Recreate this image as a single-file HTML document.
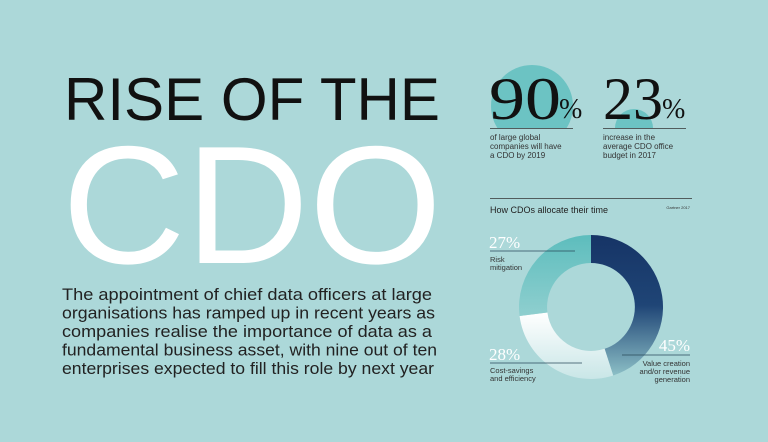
<!DOCTYPE html>
<html><head><meta charset="utf-8"><style>
html,body{margin:0;padding:0;background:#acd8d9;}
svg{display:block}
</style></head><body>
<svg width="768" height="442" viewBox="0 0 768 442" xmlns="http://www.w3.org/2000/svg">
<defs>
<linearGradient id="navy" x1="0" y1="0" x2="0" y2="1">
<stop offset="0" stop-color="#163466"/><stop offset="0.5" stop-color="#1f4576"/><stop offset="1" stop-color="#8cbfc6"/>
</linearGradient>
<linearGradient id="wht" x1="0" y1="0" x2="0" y2="1">
<stop offset="0" stop-color="#ffffff"/><stop offset="1" stop-color="#c9e6e7"/>
</linearGradient>
<linearGradient id="teal" x1="0" y1="0" x2="0" y2="1">
<stop offset="0" stop-color="#5dbdbd"/><stop offset="1" stop-color="#8fcfcf"/>
</linearGradient>
<clipPath id="c1"><rect x="480" y="40" width="110" height="88"/></clipPath>
<clipPath id="c2"><rect x="595" y="40" width="110" height="88"/></clipPath>
</defs>
<rect width="768" height="442" fill="#acd8d9"/>
<text x="64" y="120" font-family="Liberation Sans, sans-serif" font-size="60" fill="#111" textLength="376" lengthAdjust="spacingAndGlyphs">RISE OF THE</text>
<text x="62" y="263" font-family="Liberation Sans, sans-serif" font-size="168" fill="#fff" textLength="380" lengthAdjust="spacingAndGlyphs">CDO</text>
<g font-family="Liberation Sans, sans-serif" font-size="17" fill="#222">
<text x="62" y="300" textLength="370" lengthAdjust="spacingAndGlyphs">The appointment of chief data officers at large</text>
<text x="62" y="318.5" textLength="373" lengthAdjust="spacingAndGlyphs">organisations has ramped up in recent years as</text>
<text x="62" y="337" textLength="370" lengthAdjust="spacingAndGlyphs">companies realise the importance of data as a</text>
<text x="62" y="355.5" textLength="375" lengthAdjust="spacingAndGlyphs">fundamental business asset, with nine out of ten</text>
<text x="62" y="374" textLength="372" lengthAdjust="spacingAndGlyphs">enterprises expected to fill this role by next year</text>
</g>
<circle cx="532" cy="106" r="41" fill="#6cc3c3" clip-path="url(#c1)"/>
<circle cx="634" cy="128" r="19" fill="#6cc3c3" clip-path="url(#c2)"/>
<g font-family="Liberation Serif, serif" fill="#111">
<text x="489" y="119" font-size="60" textLength="72" lengthAdjust="spacingAndGlyphs">90</text>
<text x="559" y="118" font-size="28">%</text>
<text x="603" y="119" font-size="60" textLength="60" lengthAdjust="spacingAndGlyphs">23</text>
<text x="662" y="118" font-size="28">%</text>
</g>
<g stroke="#333" stroke-width="0.8">
<line x1="490" y1="128.5" x2="573" y2="128.5"/>
<line x1="603" y1="128.5" x2="686" y2="128.5"/>
<line x1="490" y1="198.5" x2="692" y2="198.5"/>
</g>
<g font-family="Liberation Sans, sans-serif" font-size="8" fill="#333">
<text x="490" y="140">of large global</text>
<text x="490" y="149">companies will have</text>
<text x="490" y="158">a CDO by 2019</text>
<text x="603" y="140">increase in the</text>
<text x="603" y="149">average CDO office</text>
<text x="603" y="158">budget in 2017</text>
<text x="490" y="213" font-size="9" fill="#222">How CDOs allocate their time</text>
<text x="690" y="209" font-size="4" text-anchor="end">Gartner 2017</text>
</g>
<path d="M591,235 A72,72 0 0 1 613.2,375.5 L604.6,348.8 A44,44 0 0 0 591,263 Z" fill="url(#navy)"/>
<path d="M613.2,375.5 A72,72 0 0 1 519.6,316 L547.4,312.5 A44,44 0 0 0 604.6,348.8 Z" fill="url(#wht)"/>
<path d="M519.6,316 A72,72 0 0 1 591,235 L591,263 A44,44 0 0 0 547.4,312.5 Z" fill="url(#teal)"/>
<g stroke="#2a4a5a" stroke-width="0.7">
<line x1="490" y1="251" x2="575" y2="251"/>
<line x1="490" y1="363" x2="582" y2="363"/>
<line x1="622" y1="355" x2="690" y2="355"/>
</g>
<g font-family="Liberation Serif, serif" font-size="17" fill="#fff">
<text x="489" y="248">27%</text>
<text x="489" y="360">28%</text>
<text x="690" y="351" text-anchor="end">45%</text>
</g>
<g font-family="Liberation Sans, sans-serif" font-size="7.5" fill="#333">
<text x="490" y="262">Risk</text>
<text x="490" y="270">mitigation</text>
<text x="490" y="373">Cost-savings</text>
<text x="490" y="381">and efficiency</text>
<text x="690" y="366" text-anchor="end">Value creation</text>
<text x="690" y="374" text-anchor="end">and/or revenue</text>
<text x="690" y="382" text-anchor="end">generation</text>
</g>
</svg>
</body></html>
